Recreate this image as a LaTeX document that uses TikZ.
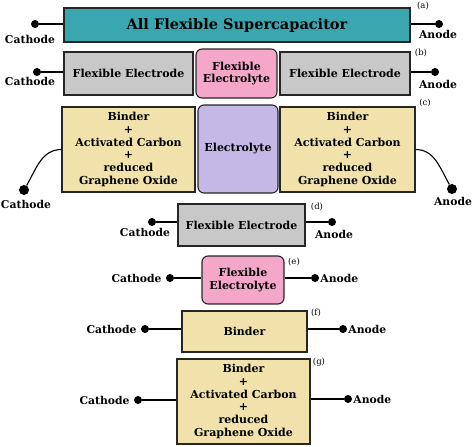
\documentclass[tikz,border=0pt]{standalone}
\usepackage{fontspec}
\setmainfont{DejaVu Serif}
\usepackage{tikz}
\usetikzlibrary{positioning}
\definecolor{capteal}{RGB}{58,166,176}
\definecolor{elgray}{RGB}{200,200,200}
\definecolor{elpink}{RGB}{244,167,200}
\definecolor{elviolet}{RGB}{196,184,230}
\definecolor{mixbeige}{RGB}{240,226,170}
\tikzset{%
  part/.style={rectangle,draw=black!85,line width=1.1pt,inner sep=0pt,align=center,
    font=\bfseries\fontsize{11}{12.8}\selectfont},
  device/.style={part,fill=capteal,font=\bfseries\fontsize{14.5}{17}\selectfont},
  electrode/.style={part,fill=elgray},
  electrolyte/.style={part,rounded corners=6pt,fill=elpink},
  gel/.style={part,rounded corners=6pt,fill=elviolet},
  mixture/.style={part,fill=mixbeige},
  pin/.style={circle,fill=black,inner sep=0pt,minimum size=8pt},
  bigpin/.style={pin,minimum size=10pt},
  term/.style={font=\bfseries\fontsize{10.8}{12}\selectfont,inner sep=0pt},
  tag/.style={font=\fontsize{8.5}{10}\selectfont,inner sep=0pt},
  wire/.style={line width=1.1pt}%
}

\begin{document}
\begin{tikzpicture}[x=1pt,y=-1pt,node distance=4pt]
    \useasboundingbox (0,0) rectangle (474,447);

    % (a)
    \node (sc) [device,minimum width=346pt,minimum height=34pt] at (237,25) {All Flexible Supercapacitor};
    \node (pin_a1) [pin] at (35,24) {};
    \node (pin_a2) [pin] at (439,24) {};
    \node (cath_a) [term] at (30,39) {Cathode};
    \node (an_a) [term] at (438,34) {Anode};
    \node (tag_a) [tag] at (423,6) {(a)};
    \path (pin_a1) edge[wire] (pin_a1 -| sc.west)
          (pin_a2) edge[wire] (pin_a2 -| sc.east);

    % (b)
    \node (elec_b1) [electrode,minimum width=129pt,minimum height=43pt] at (128.5,73.5) {Flexible Electrode};
    \node (lyte_b) [electrolyte,minimum width=81pt,minimum height=49pt] at (236.5,73.5) {Flexible\\Electrolyte};
    \node (elec_b2) [electrode,minimum width=130pt,minimum height=43pt] at (345,73.5) {Flexible Electrode};
    \node (pin_b1) [pin] at (37,72) {};
    \node (pin_b2) [pin] at (435,72) {};
    \node (cath_b) [term] at (30,81) {Cathode};
    \node (an_b) [term] at (438,84) {Anode};
    \node (tag_b) [tag] at (421,53) {(b)};
    \path (pin_b1) edge[wire] (pin_b1 -| elec_b1.west)
          (pin_b2) edge[wire] (pin_b2 -| elec_b2.east);

    % (c)
    \node (mix_c1) [mixture,minimum width=133pt,minimum height=85pt] at (128.5,149.5) {Binder\\+\\Activated Carbon\\+\\reduced\\Graphene Oxide};
    \node (gel_c) [gel,minimum width=80pt,minimum height=88pt] at (238,149) {Electrolyte};
    \node (mix_c2) [mixture,minimum width=135pt,minimum height=85pt] at (347.5,149.5) {Binder\\+\\Activated Carbon\\+\\reduced\\Graphene Oxide};
    \node (pin_c1) [bigpin] at (24,190) {};
    \node (pin_c2) [bigpin] at (452,189) {};
    \node (cath_c) [term] at (26,204) {Cathode};
    \node (an_c) [term] at (453,201) {Anode};
    \node (tag_c) [tag] at (425,103) {(c)};
    \draw[wire] (mix_c1.west) to[out=180,in=60] (pin_c1);
    \draw[wire] (mix_c2.east) to[out=0,in=120] (pin_c2);

    % (d)
    \node (elec_d) [electrode,minimum width=127pt,minimum height=42pt] at (241.5,225) {Flexible Electrode};
    \node (pin_d1) [pin] at (152,222) {};
    \node (pin_d2) [pin] at (332,222) {};
    \node (cath_d) [term] at (145,232) {Cathode};
    \node (an_d) [term] at (334,234) {Anode};
    \node (tag_d) [tag] at (317,207) {(d)};
    \path (pin_d1) edge[wire] (pin_d1 -| elec_d.west)
          (pin_d2) edge[wire] (pin_d2 -| elec_d.east);

    % (e)
    \node (lyte_e) [electrolyte,minimum width=82pt,minimum height=48pt] at (243,280) {Flexible\\Electrolyte};
    \node (pin_e1) [pin] at (170,278) {};
    \node (pin_e2) [pin] at (315,278) {};
    \node (cath_e) [term,left=of pin_e1] {Cathode};
    \node (an_e) [term,right=1pt of pin_e2] {Anode};
    \node (tag_e) [tag] at (294,262) {(e)};
    \path (pin_e1) edge[wire] (pin_e1 -| lyte_e.west)
          (pin_e2) edge[wire] (pin_e2 -| lyte_e.east);

    % (f)
    \node (bind_f) [mixture,minimum width=125pt,minimum height=41pt] at (244.5,331.5) {Binder};
    \node (pin_f1) [pin] at (145,329) {};
    \node (pin_f2) [pin] at (343,329) {};
    \node (cath_f) [term,left=of pin_f1] {Cathode};
    \node (an_f) [term,right=1pt of pin_f2] {Anode};
    \node (tag_f) [tag] at (316,313) {(f)};
    \path (pin_f1) edge[wire] (pin_f1 -| bind_f.west)
          (pin_f2) edge[wire] (pin_f2 -| bind_f.east);

    % (g)
    \node (mix_g) [mixture,minimum width=133pt,minimum height=85pt] at (243.5,401.5) {Binder\\+\\Activated Carbon\\+\\reduced\\Graphene Oxide};
    \node (pin_g1) [pin] at (138,400) {};
    \node (pin_g2) [pin] at (348,399) {};
    \node (cath_g) [term,left=of pin_g1] {Cathode};
    \node (an_g) [term,right=1pt of pin_g2] {Anode};
    \node (tag_g) [tag] at (319,362) {(g)};
    \path (pin_g1) edge[wire] (pin_g1 -| mix_g.west)
          (pin_g2) edge[wire] (pin_g2 -| mix_g.east);

\end{tikzpicture}
\end{document}
